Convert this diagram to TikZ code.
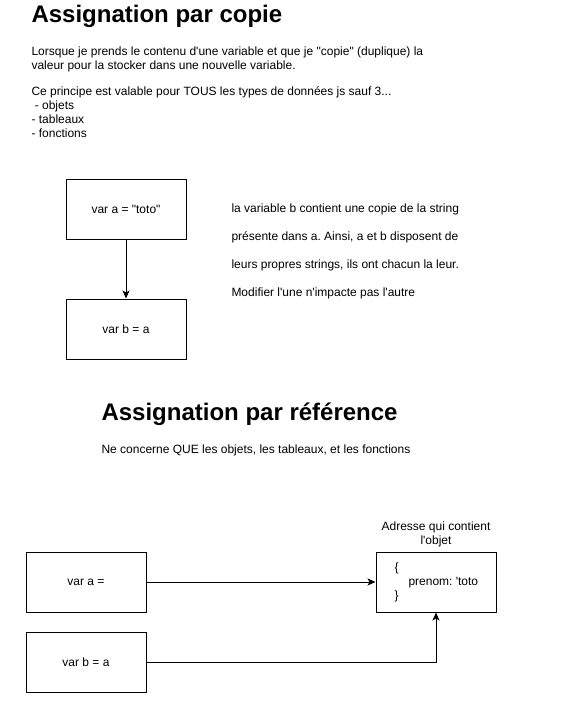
\documentclass[tikz,border=0pt]{standalone}
\usepackage{fontspec}
\setmainfont{Liberation Sans}[Ligatures=TeXOff]
\frenchspacing
\usetikzlibrary{positioning, arrows.meta}

\begin{document}
\begin{tikzpicture}[
  x=1pt, y=-1pt,
  >={Stealth[length=8pt, width=7pt, inset=2pt]},
  line width=1pt,
  %% Main node styles
  varbox/.style={
    draw=black, fill=white, minimum width=120pt, minimum height=60pt,
    align=center, font=\fontsize{12}{14}\selectfont
  },
  heading/.style={
    anchor=base west, inner sep=0pt, font=\fontsize{24}{28}\selectfont\bfseries
  },
  para/.style={
    anchor=base west, inner sep=0pt, align=left,
    font=\fontsize{12}{14}\selectfont
  },
  note/.style={
    anchor=base west, inner sep=0pt, align=left,
    font=\fontsize{12}{28}\selectfont
  },
  link/.style={->, draw=black, line width=1pt},
]
\useasboundingbox (0,0) rectangle (566,704);

%% ── ASSIGNATION PAR COPIE ─────────────────────────────────────────────────
%% (base = last line of each text block)
\node[heading] (copytitle) at (31,22) {Assignation par copie};
\node[para] (copyintro) at (31,69)
  {Lorsque je prends le contenu d'une variable et que je "copie" (duplique) la\\
   valeur pour la stocker dans une nouvelle variable.};
\node[para] (copylist) at (31,137)
  {Ce principe est valable pour TOUS les types de données js sauf 3...\\
   \ - objets\\
   - tableaux\\
   - fonctions};

\node[varbox] (copya) at (126,209) {var a = "toto"};
\node[varbox] (copyb) at (126,329) {var b = a};

\node[note] (copynote) at (231,296)
  {la variable b contient une copie de la string\\
   présente dans a. Ainsi, a et b disposent de\\
   leurs propres strings, ils ont chacun la leur.\\
   Modifier l'une n'impacte pas l'autre};

%% var a → var b
\draw[link] (copya.south) -- (copyb.north);

%% ── ASSIGNATION PAR REFERENCE ─────────────────────────────────────────────
\node[heading] (reftitle) at (101,420) {Assignation par référence};
\node[para] (refintro) at (101,453)
  {Ne concerne QUE les objets, les tableaux, et les fonctions};

\node[varbox] (refa) at (86,582) {var a =};
\node[varbox] (refb) at (86,662) {var b = a};
\node[varbox] (refobj) at (436,582) {};
\node[para, anchor=west] (objtext) at (394,582)
  {\{\\\hspace{14pt}prenom: 'toto\\\}};
\node[para, anchor=south, align=center, inner sep=1pt, above=3pt of refobj]
  (objlabel) {Adresse qui contient\\l'objet};

%% var a → objet
\draw[link] (refa.east) -- (refobj.west);

%% var b → objet (par dessous)
\draw[link] (refb.east) -| (refobj.south);

\end{tikzpicture}
\end{document}
